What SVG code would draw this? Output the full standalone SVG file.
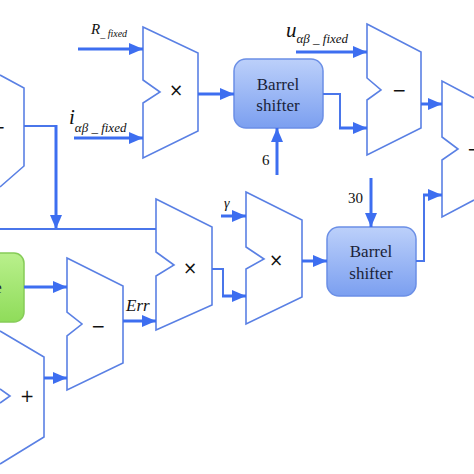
<svg xmlns="http://www.w3.org/2000/svg" width="474" height="474" viewBox="0 0 474 474">
<defs>
<style>
.blk{fill:#fff;stroke:#5a80e4;stroke-width:1.6;stroke-linejoin:miter}
.c{fill:none;stroke:#3d6ef0;stroke-width:3}
.ct{fill:none;stroke:#4a76ea;stroke-width:2}
.op{font-family:"DejaVu Sans",sans-serif;font-size:17px;fill:#111;text-anchor:middle}
.bs{font-family:"Liberation Serif",serif;font-size:17px;fill:#1a1f3a;text-anchor:middle}
.lb{font-family:"Liberation Serif",serif;font-style:italic;fill:#111}
.num{font-family:"Liberation Serif",serif;font-size:15px;fill:#111}
</style>
<linearGradient id="gb" x1="0" y1="0" x2="0" y2="1">
<stop offset="0" stop-color="#bcd0fa"/>
<stop offset="1" stop-color="#7b9ff0"/>
</linearGradient>
<linearGradient id="gg" x1="0" y1="0" x2="0" y2="1">
<stop offset="0" stop-color="#b9f08c"/>
<stop offset="1" stop-color="#8fdc5a"/>
</linearGradient>
<marker id="ah" viewBox="0 0 14 12" refX="14" refY="6" markerWidth="14" markerHeight="12" markerUnits="userSpaceOnUse" orient="auto">
<path d="M0,0 L14,6 L0,12 z" fill="#3d6ef0"/>
</marker>
</defs>
<rect width="474" height="474" fill="#fff"/>

<g id="left-sub">
<path class="blk" d="M0,75 L24,88 V166 L0,187"/>
<text class="op" x="-2" y="133">−</text>
</g>
<g id="green-box">
<rect x="-20" y="253" width="44" height="69" rx="10" fill="url(#gg)" stroke="#86cc58" stroke-width="1.5"/>
<text class="bs" x="-2" y="293">e</text>
</g>
<g id="adder">
<path class="blk" d="M0,331 L44,357 V437 L0,464"/>
<path class="blk" d="M0,389 L10,396 L0,403"/>
<text class="op" x="27" y="402">+</text>
</g>
<g id="sub-err">
<path class="blk" d="M67,258 L123,286 V363 L67,390 V336 L82,324 L67,312 Z"/>
<text class="op" x="98" y="332">−</text>
</g>
<g id="mult1">
<path class="blk" d="M143,27 L198,53 V131 L143,158 V103 L160,92 L143,80 Z"/>
<text class="op" x="176" y="96">×</text>
</g>
<g id="mult2">
<path class="blk" d="M156,199 L212,227 V305 L156,330 V276 L174,265 L156,252 Z"/>
<text class="op" x="190" y="274">×</text>
</g>
<g id="mult3">
<path class="blk" d="M246,192 L302,220 V297 L246,324 V269 L264,259 L246,247 Z"/>
<text class="op" x="276" y="266">×</text>
</g>
<g id="barrel1">
<rect x="234" y="59" width="89" height="69" rx="12" fill="url(#gb)" stroke="#6b8fe6" stroke-width="1.5"/>
<text class="bs" x="278" y="90">Barrel</text>
<text class="bs" x="278" y="111">shifter</text>
</g>
<g id="barrel2">
<rect x="327" y="227" width="89" height="69" rx="12" fill="url(#gb)" stroke="#6b8fe6" stroke-width="1.5"/>
<text class="bs" x="371" y="257">Barrel</text>
<text class="bs" x="371" y="279">shifter</text>
</g>
<g id="sub1">
<path class="blk" d="M367,24 L421,52 V128 L367,155 V100 L381,90 L367,78 Z"/>
<text class="op" x="399" y="96">−</text>
</g>
<g id="sub2">
<path class="blk" d="M474,98 L442,81 V137 L458,149 L442,160 V217 L474,200"/>
<text class="op" x="474" y="155">−</text>
</g>

<g id="labels">
<text class="lb" x="91" y="34" font-size="15">R<tspan font-size="10" dy="3">_ fixed</tspan></text>
<text class="lb" x="69" y="124" font-size="21">i<tspan font-size="13" dy="8">αβ _ fixed</tspan></text>
<text class="lb" x="286" y="37" font-size="21">u<tspan font-size="13" dy="6">αβ _ fixed</tspan></text>
<text class="lb" x="224" y="208" font-size="14">γ</text>
<text class="lb" x="126" y="311" font-size="17">Err</text>
<text class="num" x="262" y="165">6</text>
<text class="num" x="348" y="203">30</text>
</g>

<g id="connectors">
<path class="c" d="M78,49 H143" marker-end="url(#ah)"/>
<path class="c" d="M74,138 H143" marker-end="url(#ah)"/>
<path class="c" d="M198,94 H234" marker-end="url(#ah)"/>
<path class="c" d="M277,175 V128" marker-end="url(#ah)"/>
<path class="ct" d="M323,94 H340 V128"/>
<path class="c" d="M339,128 H367" marker-end="url(#ah)"/>
<path class="c" d="M296,52 H367" marker-end="url(#ah)"/>
<path class="c" d="M421,104 H442" marker-end="url(#ah)"/>
<path class="c" d="M371,178 V227" marker-end="url(#ah)"/>
<path class="ct" d="M416,261 H424 V195"/>
<path class="c" d="M423,195 H442" marker-end="url(#ah)"/>
<path class="c" d="M302,261 H327" marker-end="url(#ah)"/>
<path class="c" d="M221,216 H246" marker-end="url(#ah)"/>
<path class="ct" d="M212,269 H223 V296"/>
<path class="c" d="M222,296 H246" marker-end="url(#ah)"/>
<path class="c" d="M123,321 H156" marker-end="url(#ah)"/>
<path class="c" d="M24,287 H67" marker-end="url(#ah)"/>
<path class="c" d="M44,378 H67" marker-end="url(#ah)"/>
<path class="ct" d="M24,126 H56"/>
<path class="c" d="M56,125 V229" marker-end="url(#ah)"/>
<path class="ct" d="M0,229 H156"/>
</g>
</svg>
